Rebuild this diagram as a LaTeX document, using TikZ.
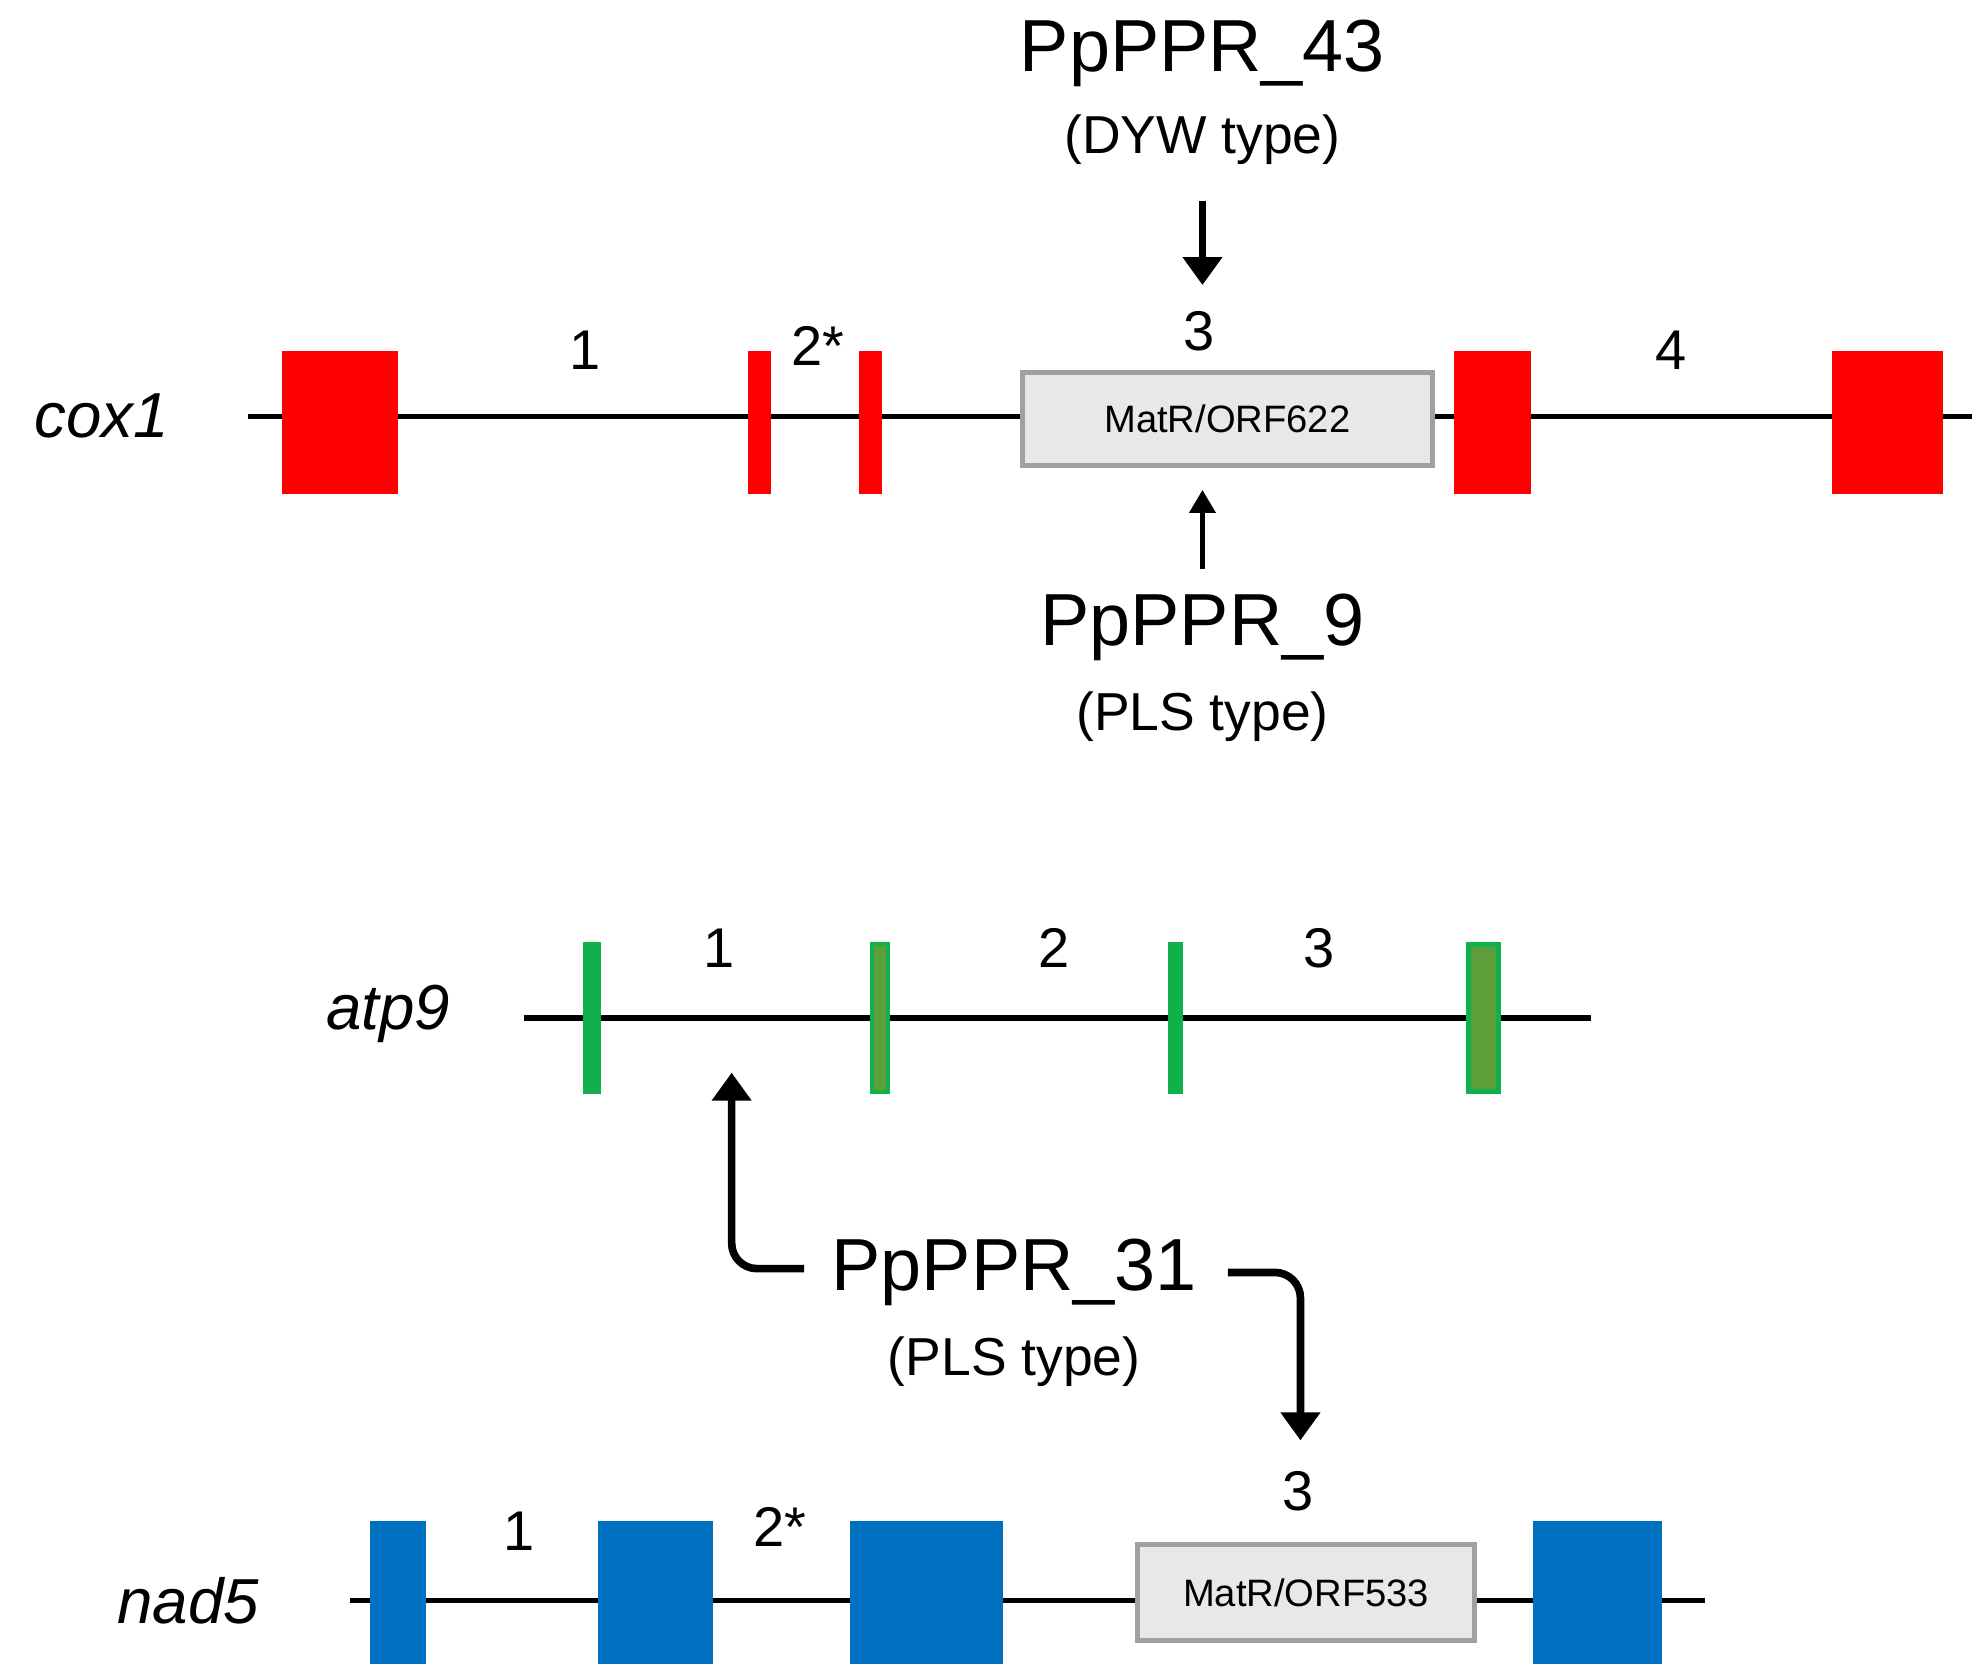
\documentclass[tikz,border=0pt]{standalone}
\usepackage{fontspec}
\setmainfont{Liberation Sans}
\usetikzlibrary{arrows.meta}
\definecolor{myred}{HTML}{FF0000}
\definecolor{mygreen}{HTML}{10B04A}
\definecolor{myolive}{HTML}{5E9E3A}
\definecolor{myblue}{HTML}{0070C0}
\definecolor{boxgray}{HTML}{E8E8E8}
\definecolor{bordgray}{HTML}{A0A0A0}
\begin{document}
\begin{tikzpicture}[x=1pt,y=-1pt,
  gene/.style={line width=4pt},
  big/.style={font=\fontsize{58}{60}\selectfont},
  typ/.style={font=\fontsize{42}{44}\selectfont},
  num/.style={font=\fontsize{44}{46}\selectfont},
  gname/.style={font=\fontsize{50}{52}\selectfont\itshape},
  mat/.style={draw=bordgray,line width=4pt,fill=boxgray,inner sep=0pt,font=\fontsize{30}{32}\selectfont},
  arr/.style={line width=6pt,-{Triangle[length=22pt,width=30pt]}},
  arrs/.style={line width=4pt,-{Triangle[length=18pt,width=20pt]}}]
\useasboundingbox (0,0) rectangle (1560,1320);
% cox1
\node[gname] (cox) at (80,327) {cox1};
\coordinate (c0) at (195,327); \coordinate (c1) at (1550,327);
\draw[gene] (c0) -- (c1);
\fill[myred] (222,276) rectangle (313,388);
\fill[myred] (588,276) rectangle (606,388);
\fill[myred] (675,276) rectangle (693,388);
\fill[myred] (1143,276) rectangle (1203,388);
\fill[myred] (1440,276) rectangle (1527,388);
\node[mat,minimum width=322pt,minimum height=73pt] (m1) at (964.5,329.5) {MatR/ORF622};
\node[num] (n1) at (460,275) {1};
\node[num] (n2) at (643,272) {2*};
\node[num] (n3) at (942,260) {3};
\node[num] (n4) at (1313,275) {4};
\node[big] (p43) at (945,42) {PpPPR\_43};
\node[typ] (t43) at (945,110) {(DYW type)};
\coordinate (a1s) at (945,158); \coordinate (a1e) at (945,224);
\draw[arr] (a1s) -- (a1e);
\coordinate (a2s) at (945,447); \coordinate (a2e) at (945,385);
\draw[arrs] (a2s) -- (a2e);
\node[big] (p9) at (945,493) {PpPPR\_9};
\node[typ] (t9) at (945,563) {(PLS type)};
% atp9
\node[gname] (atp) at (305,797) {atp9};
\coordinate (b0) at (412,800); \coordinate (b1) at (1250,800);
\draw[gene] (b0) -- (b1);
\fill[mygreen] (458,740) rectangle (472,860);
\draw[mygreen,fill=myolive,line width=3pt] (685,742) rectangle (698,858);
\fill[mygreen] (918,740) rectangle (930,860);
\draw[mygreen,fill=myolive,line width=4pt] (1154,742) rectangle (1178,858);
\node[num] (g1) at (565,745) {1};
\node[num] (g2) at (828,745) {2};
\node[num] (g3) at (1037,745) {3};
\node[big] (p31) at (797,1000) {PpPPR\_31};
\node[typ] (t31) at (797,1070) {(PLS type)};
\coordinate (l0) at (632,997); \coordinate (l1) at (575,843);
\draw[arr,rounded corners=20pt] (l0) -| (l1);
\coordinate (r0) at (965,1000); \coordinate (r1) at (1022,1132);
\draw[arr,rounded corners=20pt] (r0) -| (r1);
% nad5
\node[gname] (nad) at (148,1258) {nad5};
\coordinate (d0) at (275,1258); \coordinate (d1) at (1340,1258);
\draw[gene] (d0) -- (d1);
\fill[myblue] (291,1195) rectangle (335,1308);
\fill[myblue] (470,1195) rectangle (560,1308);
\fill[myblue] (668,1195) rectangle (788,1308);
\fill[myblue] (1205,1195) rectangle (1306,1308);
\node[mat,minimum width=265pt,minimum height=75pt] (m2) at (1026.5,1251.5) {MatR/ORF533};
\node[num] (h1) at (408,1203) {1};
\node[num] (h2) at (613,1200) {2*};
\node[num] (h3) at (1020,1172) {3};
\end{tikzpicture}
\end{document}
